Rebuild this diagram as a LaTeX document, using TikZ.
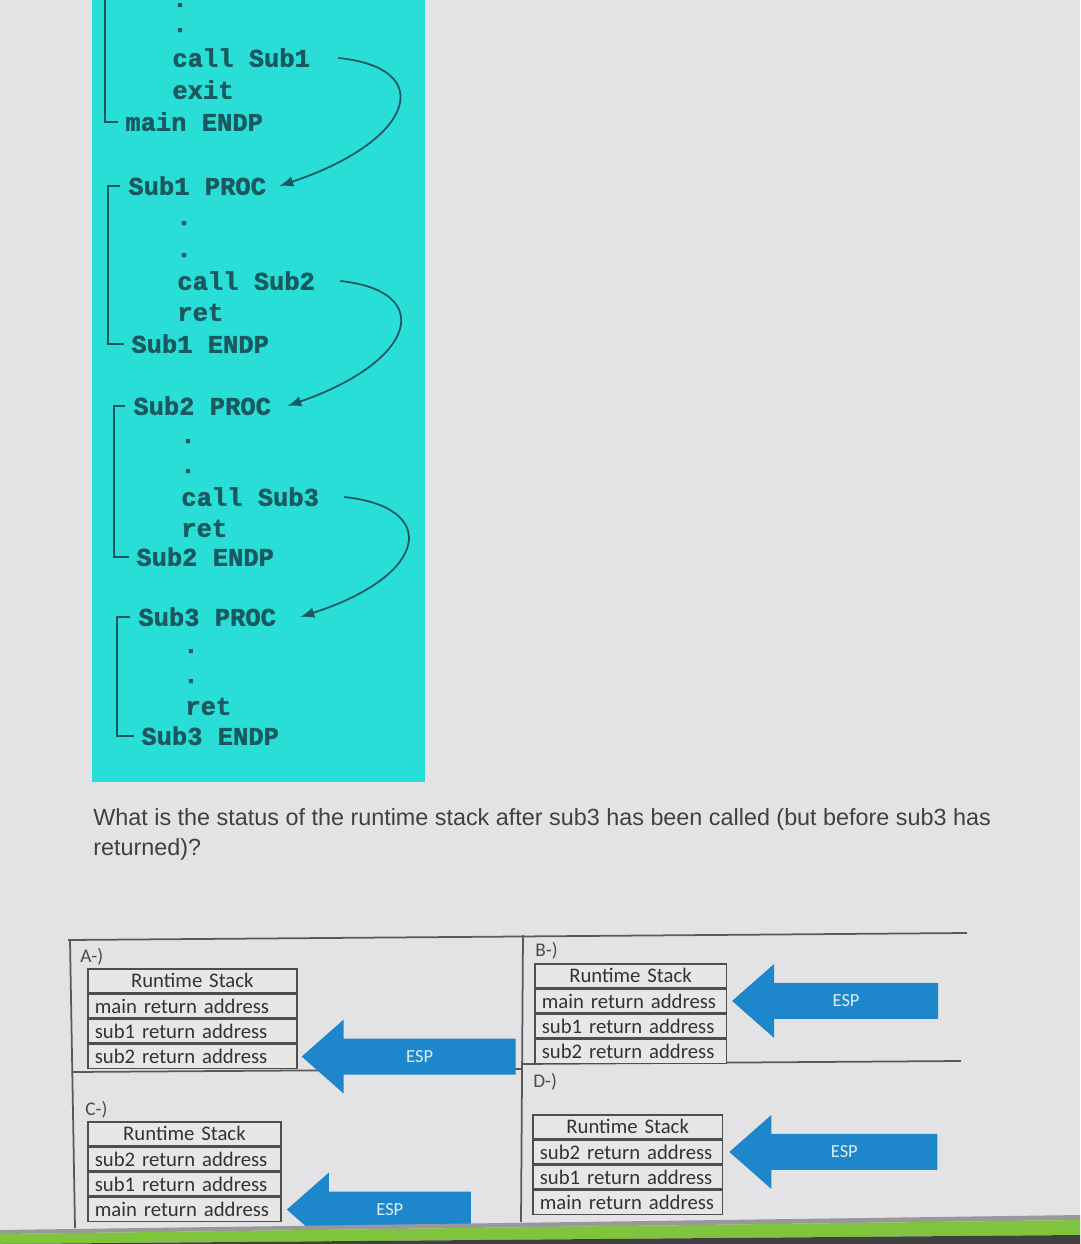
\documentclass[tikz,border=0pt]{standalone}
\usepackage{fontspec}
\usepackage{tikz}
\usetikzlibrary{calc,positioning,arrows.meta}
\newfontfamily\codefont{Liberation Mono}[BoldFont={Liberation Mono Bold}, BoldFeatures={FakeBold=1.6}]
\newfontfamily\quesfont{Liberation Sans}
\newfontfamily\cellfont{Carlito}
\definecolor{screenbg}{RGB}{227,227,229}
\definecolor{panelcyan}{RGB}{42,222,216}
\definecolor{codeteal}{RGB}{24,88,94}
\definecolor{cellline}{RGB}{78,78,78}
\definecolor{cellfill}{RGB}{231,231,232}
\definecolor{espblue}{RGB}{30,134,202}
\definecolor{esptxt}{RGB}{222,238,248}
\definecolor{deskgreen}{RGB}{128,196,62}
\tikzset{
	code/.style={font=\codefont\bfseries\fontsize{14.5}{17}\selectfont, text=codeteal,
		inner sep=0pt, text height=10pt, text depth=0pt, anchor=west},
	codedot/.style={code, text height=3pt, anchor=base west},
	bracket/.style={draw=codeteal, line width=1pt},
	callarrow/.style={draw=codeteal, line width=1pt, ->},
	stackhead/.style={draw=cellline, fill=cellfill, line width=0.9pt, font=\cellfont\fontsize{11.8}{13}\selectfont,
		text=black!80, align=center, text width=#1, minimum height=13.5pt, inner xsep=4pt, inner ysep=0pt, anchor=north west},
	stackrow/.style={stackhead=#1, align=left, anchor=north},
	optlabel/.style={font=\cellfont\fontsize{11}{12}\selectfont, text=black!70, inner sep=0pt, anchor=west},
	frameline/.style={draw=black!65, line width=1pt},
	esplabel/.style={font=\cellfont\fontsize{10.5}{12}\selectfont, text=esptxt, inner sep=0pt},
	esparrow/.pic={
		\fill[espblue] (0,0) -- (42,-37) -- (42,-18) -- (#1,-18) -- (#1,18) -- (42,18) -- (42,37) -- cycle;
		\node[esplabel] (-esp) at ({(#1+42)/2-10},0) {ESP};
	},
}

\begin{document}
\begin{tikzpicture}[x=0.02cm, y=-0.02cm, >={Latex[length=8pt,width=6pt]}]
\useasboundingbox (0,0) rectangle (1080,1244);
\fill[screenbg] (0,0) rectangle (1080,1244);

% the code panel
\fill[panelcyan] (92,-5) rectangle (425,782);
\node[codedot] (dotm1) at (172,7) {.};
\node[codedot] (dotm2) at (172,32) {.};
\node[code] (call1) at (172,58) {call Sub1};
\node[code] (exitm) at (172,90) {exit};
\node[code] (endpm) at (125,122) {main ENDP};

\node[code] (proc1) at (128,186) {Sub1 PROC};
\node[codedot] (dot11) at (176,225) {.};
\node[codedot] (dot12) at (176,257) {.};
\node[code] (call2) at (177,281) {call Sub2};
\node[code] (ret1) at (177,312) {ret};
\node[code] (endp1) at (131,344) {Sub1 ENDP};

\node[code] (proc2) at (133,406) {Sub2 PROC};
\node[codedot] (dot21) at (180,443) {.};
\node[codedot] (dot22) at (180,473) {.};
\node[code] (call3) at (181,497) {call Sub3};
\node[code] (ret2) at (181,528) {ret};
\node[code] (endp2) at (136,557) {Sub2 ENDP};

\node[code] (proc3) at (138,617) {Sub3 PROC};
\node[codedot] (dot31) at (183,653) {.};
\node[codedot] (dot32) at (183,683) {.};
\node[code] (ret3) at (185,706) {ret};
\node[code] (endp3) at (141,736) {Sub3 ENDP};

% the brackets
\coordinate (maintop) at (105,-5);
\draw[bracket] (maintop) |- ($(endpm.west)+(-7,0)$);
\draw[bracket] ($(proc1.west)+(-8,0)$) -- ($(proc1.west)+(-20,0)$) |- ($(endp1.west)+(-7,0)$);
\draw[bracket] ($(proc2.west)+(-8,0)$) -- ($(proc2.west)+(-19,0)$) |- ($(endp2.west)+(-7,0)$);
\draw[bracket] ($(proc3.west)+(-8,0)$) -- ($(proc3.west)+(-21,0)$) |- ($(endp3.west)+(-7,0)$);

% the arrows
\draw[callarrow] ($(call1.east)+(28,0)$) .. controls +(100,10) and +(135,-45) .. ($(proc1.east)+(13,0)$);
\draw[callarrow] ($(call2.east)+(25,0)$) .. controls +(95,10) and +(130,-45) .. ($(proc2.east)+(16,0)$);
\draw[callarrow] ($(call3.east)+(25,0)$) .. controls +(95,10) and +(130,-42) .. ($(proc3.east)+(24,0)$);

%the question
\node[font=\quesfont\fontsize{13.3}{17}\selectfont, text=black!75, align=left, inner sep=0pt, anchor=north west]
	(ques) at (93,808) {What is the status of the runtime stack after sub3 has been called (but before sub3 has\\returned)?};

%the frame
\draw[frameline] (68,940) -- (967,933);
\draw[frameline] (70,940) -- (75,1228);
\draw[frameline] (523,935) -- (521,1222);
\draw[frameline] (72,1072) -- (522,1069);
\draw[frameline] (522,1064) -- (961,1061);

% the stacks
\node[optlabel] (labA) at (80,957) {A-)};
\node[stackhead=111pt] (stA) at (87,968) {Runtime Stack};
\node[stackrow=111pt, below=0pt of stA] (stA1) {main return address};
\node[stackrow=111pt, below=0pt of stA1] (stA2) {sub1 return address};
\node[stackrow=111pt, below=0pt of stA2] (stA3) {sub2 return address};

\node[optlabel] (labB) at (535,951) {B-)};
\node[stackhead=101pt] (stB) at (534,963) {Runtime Stack};
\node[stackrow=101pt, below=0pt of stB] (stB1) {main return address};
\node[stackrow=101pt, below=0pt of stB1] (stB2) {sub1 return address};
\node[stackrow=101pt, below=0pt of stB2] (stB3) {sub2 return address};

\node[optlabel] (labC) at (85,1110) {C-)};
\node[stackhead=102pt] (stC) at (87,1121) {Runtime Stack};
\node[stackrow=102pt, below=0pt of stC] (stC1) {sub2 return address};
\node[stackrow=102pt, below=0pt of stC1] (stC2) {sub1 return address};
\node[stackrow=102pt, below=0pt of stC2] (stC3) {main return address};

\node[optlabel] (labD) at (533,1082) {D-)};
\node[stackhead=100pt] (stD) at (532,1114) {Runtime Stack};
\node[stackrow=100pt, below=0pt of stD] (stD1) {sub2 return address};
\node[stackrow=100pt, below=0pt of stD1] (stD2) {sub1 return address};
\node[stackrow=100pt, below=0pt of stD2] (stD3) {main return address};

% the esp arrows
\path ($(stA3.east)+(4,0)$) pic (arrA) {esparrow=214};
\path ($(stB1.east)+(5,0)$) pic (arrB) {esparrow=206};
\path ($(stC3.east)+(5,0)$) pic (arrC) {esparrow=184};
\path ($(stD1.east)+(6,0)$) pic (arrD) {esparrow=208};

%the screen edge
\fill[black!40] (0,1230) -- (1080,1215) -- (1080,1220) -- (0,1234) -- cycle;
\fill[deskgreen] (0,1234) -- (1080,1220) -- (1080,1235) -- (0,1244) -- cycle;
\fill[black!75] (0,1244) -- (1080,1235) -- (1080,1244) -- cycle;
\end{tikzpicture}
\end{document}
